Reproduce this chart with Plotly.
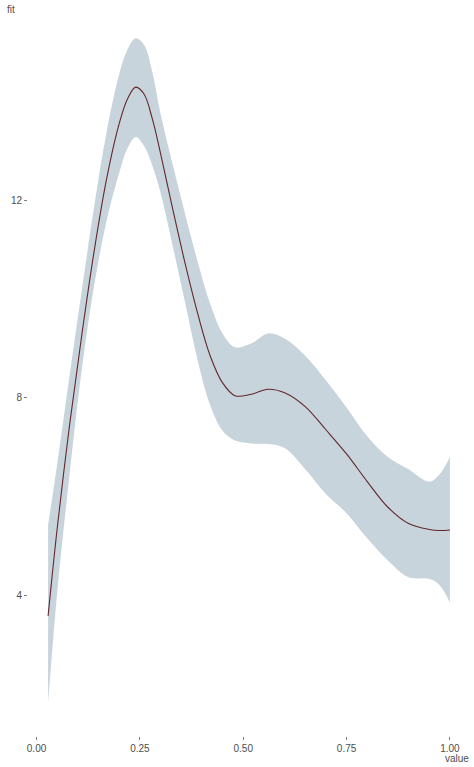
import plotly.graph_objects as go

# smooth fit with confidence band
value = [0.028, 0.05, 0.08, 0.11, 0.14, 0.17, 0.20, 0.22, 0.24, 0.26, 0.28,
         0.30, 0.33, 0.36, 0.39, 0.42, 0.45, 0.48, 0.52, 0.56, 0.60, 0.65,
         0.70, 0.75, 0.80, 0.85, 0.90, 0.95, 0.975, 1.00]
fit = [3.58, 5.35, 7.45, 9.3, 11.0, 12.45, 13.55, 14.05, 14.29, 14.15, 13.65,
       12.95, 11.8, 10.7, 9.7, 8.85, 8.3, 8.04, 8.07, 8.17, 8.1, 7.82,
       7.35, 6.86, 6.3, 5.78, 5.45, 5.33, 5.31, 5.32]
upper = [5.42, 6.65, 8.45, 10.2, 11.9, 13.4, 14.55, 15.05, 15.28, 15.15, 14.6,
         13.75, 12.7, 11.7, 10.75, 9.9, 9.3, 9.02, 9.1, 9.3, 9.2, 8.85,
         8.35, 7.8, 7.22, 6.8, 6.55, 6.3, 6.45, 6.8]
lower = [1.82, 4.05, 6.45, 8.6, 10.3, 11.6, 12.55, 13.05, 13.28, 13.1, 12.7,
         12.15, 11.05, 9.9, 8.75, 7.85, 7.33, 7.13, 7.07, 7.06, 6.98, 6.55,
         6.05, 5.66, 5.15, 4.7, 4.36, 4.33, 4.2, 3.85]

x_ticks = [0.0, 0.25, 0.5, 0.75, 1.0]
x_labels = ["0.00", "0.25", "0.50", "0.75", "1.00"]
y_ticks = [4, 8, 12]

band_col = "#c8d4dc"
line_col = "#62272a"
txt_col = "#4d4d4d"

fig = go.Figure()

fig.add_trace(go.Scatter(x=value, y=lower, mode="lines",
                         line=dict(width=0, shape="spline", smoothing=1.0),
                         hoverinfo="skip", showlegend=False))
fig.add_trace(go.Scatter(x=value, y=upper, mode="lines", fill="tonexty",
                         fillcolor=band_col,
                         line=dict(width=0, shape="spline", smoothing=1.0),
                         hoverinfo="skip", showlegend=False))
fig.add_trace(go.Scatter(x=value, y=fit, mode="lines",
                         line=dict(color=line_col, width=1.1, shape="spline",
                                   smoothing=1.0),
                         showlegend=False))

fig.update_layout(
    width=474, height=767,
    margin=dict(l=28, r=4, t=5, b=31),
    paper_bgcolor="white", plot_bgcolor="white",
    font=dict(family="Liberation Sans, Arial, sans-serif", size=10,
              color=txt_col),
    xaxis=dict(range=[-0.0206, 1.0486], tickvals=x_ticks, ticktext=x_labels,
               showgrid=False, zeroline=False, showline=False, automargin=False,
               ticks="outside", ticklen=3, tickcolor="#7f7f7f", tickwidth=1,
               tickfont=dict(color=txt_col)),
    yaxis=dict(range=[1.147, 15.953], tickvals=y_ticks,
               showgrid=False, zeroline=False, showline=False, automargin=False,
               ticks="outside", ticklen=3, tickcolor="#7f7f7f", tickwidth=1,
               tickfont=dict(color=txt_col)),
    annotations=[
        dict(text="fit", xref="paper", yref="paper", x=-0.052, y=1.0,
             xanchor="left", yanchor="top", yshift=3, showarrow=False,
             font=dict(size=10, color=txt_col)),
        dict(text="value", xref="paper", yref="paper", x=1.003, y=-0.021,
             xanchor="right", yanchor="top", showarrow=False,
             font=dict(size=10, color=txt_col)),
    ],
)

# drop the page's default body margin so the figure fills the window
fig.write_html("out.html", config={"displayModeBar": False},
               post_script="document.body.style.margin='0';")
